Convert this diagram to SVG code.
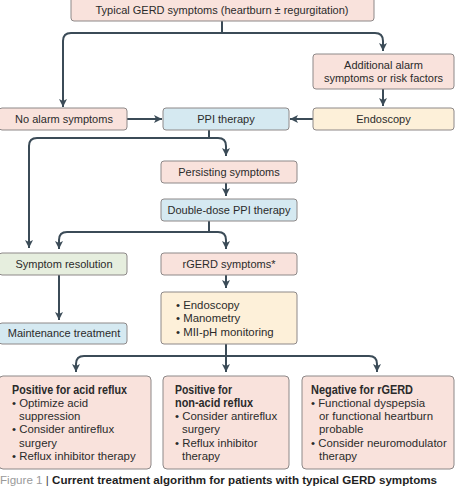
<svg xmlns="http://www.w3.org/2000/svg" width="474" height="487" viewBox="0 0 474 487">
<style>
.box{stroke:#8d8888;stroke-width:1}
.pink{fill:#f9e2dc}
.blue{fill:#d5e9f1}
.yel{fill:#fdf0d9}
.green{fill:#e6eede}
.t{font-family:"Liberation Sans",Arial,sans-serif;font-size:11px;fill:#2b2b2b}
.c{text-anchor:middle}
.b{font-size:11.4px;fill:#2b2b2b;font-family:"Liberation Sans",Arial,sans-serif}
.bold{font-weight:bold;font-size:12px}
.con{fill:none;stroke:#3b4b57;stroke-width:2}
.cap{font-family:"Liberation Sans",Arial,sans-serif;font-size:11.5px}
</style>
<defs>
<marker id="ah" markerUnits="userSpaceOnUse" markerWidth="10" markerHeight="10" viewBox="0 0 10 10" refX="9" refY="5" orient="auto">
<path d="M1,1 L9,5 L1,9 L3,5 Z" fill="#3b4b57"/>
</marker>
</defs>
<rect width="474" height="487" fill="#ffffff"/>
<g id="connectors">
<path class="con" d="M222,21 V33 H71 Q63,33 63,41 V107" marker-end="url(#ah)"/>
<path class="con" d="M222,33 H375 Q383,33 383,41 V51" marker-end="url(#ah)"/>
<path class="con" d="M383,89 V106" marker-end="url(#ah)"/>
<path class="con" d="M127,119 H162" marker-end="url(#ah)"/>
<path class="con" d="M313,119 H290" marker-end="url(#ah)"/>
<path class="con" d="M209,130 V138 H37 Q29,138 29,146 V248" marker-end="url(#ah)"/>
<path class="con" d="M209,138 H218 Q226,138 226,146 V156" marker-end="url(#ah)"/>
<path class="con" d="M226,183 V196" marker-end="url(#ah)"/>
<path class="con" d="M209,221 V232 H67 Q59,232 59,240 V249" marker-end="url(#ah)"/>
<path class="con" d="M209,232 H218 Q226,232 226,240 V249" marker-end="url(#ah)"/>
<path class="con" d="M59,275 V320" marker-end="url(#ah)"/>
<path class="con" d="M226,275 V288" marker-end="url(#ah)"/>
<path class="con" d="M226,344 V372" marker-end="url(#ah)"/>
<path class="con" d="M226,356 H84 Q76,356 76,364 V372" marker-end="url(#ah)"/>
<path class="con" d="M226,356 H369 Q377,356 377,364 V372" marker-end="url(#ah)"/>
</g>
<g id="typical">
<rect class="box pink" x="71" y="-3" width="303" height="24" rx="3"/>
<text class="t c" x="222" y="14">Typical GERD symptoms (heartburn ± regurgitation)</text>
</g>
<g id="alarm">
<rect class="box pink" x="313" y="54" width="141" height="35" rx="3"/>
<text class="t c" x="383.5" y="69">Additional alarm</text>
<text class="t c" x="383.5" y="82">symptoms or risk factors</text>
</g>
<g id="noalarm">
<rect class="box pink" x="-1" y="108" width="128" height="22" rx="3"/>
<text class="t c" x="64" y="123">No alarm symptoms</text>
</g>
<g id="ppi">
<rect class="box blue" x="163" y="108" width="126" height="22" rx="3"/>
<text class="t c" x="226" y="123">PPI therapy</text>
</g>
<g id="endoscopy">
<rect class="box yel" x="313" y="108" width="141" height="22" rx="3"/>
<text class="t c" x="383.5" y="123">Endoscopy</text>
</g>
<g id="persisting">
<rect class="box pink" x="161" y="161" width="136" height="22" rx="3"/>
<text class="t c" x="229" y="176">Persisting symptoms</text>
</g>
<g id="doubledose">
<rect class="box blue" x="161" y="199" width="136" height="22" rx="3"/>
<text class="t c" x="229" y="214">Double-dose  PPI therapy</text>
</g>
<g id="resolution">
<rect class="box green" x="-1" y="253" width="128" height="22" rx="3"/>
<text class="t c" x="64" y="268">Symptom resolution</text>
</g>
<g id="rgerd">
<rect class="box pink" x="161" y="253" width="136" height="22" rx="3"/>
<text class="t c" x="229" y="268">rGERD symptoms*</text>
</g>
<g id="maintenance">
<rect class="box blue" x="-1" y="323" width="128" height="21" rx="3"/>
<text class="t c" x="64" y="337">Maintenance treatment</text>
</g>
<g id="tests">
<rect class="box yel" x="161" y="292" width="136" height="52" rx="3"/>
<text class="b" x="176" y="309">• Endoscopy</text>
<text class="b" x="176" y="322">• Manometry</text>
<text class="b" x="176" y="336">• MII-pH monitoring</text>
</g>
<g id="acid">
<rect class="box pink" x="-1" y="376" width="152" height="93" rx="4"/>
<text class="b bold" x="12" y="394" textLength="115" lengthAdjust="spacingAndGlyphs">Positive for acid reflux</text>
<text class="b" x="12" y="407">• Optimize acid</text>
<text class="b" x="19" y="420">suppression</text>
<text class="b" x="12" y="433">• Consider antireflux</text>
<text class="b" x="19" y="447">surgery</text>
<text class="b" x="12" y="460">• Reflux inhibitor therapy</text>
</g>
<g id="nonacid">
<rect class="box pink" x="163" y="376" width="126" height="93" rx="4"/>
<text class="b bold" x="175" y="394" textLength="57" lengthAdjust="spacingAndGlyphs">Positive for</text>
<text class="b bold" x="175" y="407" textLength="78" lengthAdjust="spacingAndGlyphs">non-acid reflux</text>
<text class="b" x="175" y="420">• Consider antireflux</text>
<text class="b" x="182" y="433">surgery</text>
<text class="b" x="175" y="447">• Reflux inhibitor</text>
<text class="b" x="182" y="460">therapy</text>
</g>
<g id="negative">
<rect class="box pink" x="302" y="376" width="152" height="93" rx="4"/>
<text class="b bold" x="311" y="394" textLength="102" lengthAdjust="spacingAndGlyphs">Negative for rGERD</text>
<text class="b" x="311" y="407">• Functional dyspepsia</text>
<text class="b" x="319" y="420">or functional heartburn</text>
<text class="b" x="319" y="433">probable</text>
<text class="b" x="311" y="447">• Consider neuromodulator</text>
<text class="b" x="319" y="460">therapy</text>
</g>
<text class="cap" x="0" y="484" textLength="437" lengthAdjust="spacingAndGlyphs"><tspan fill="#9a9a9a">Figure 1 </tspan><tspan fill="#444444">| </tspan><tspan font-weight="bold" fill="#1f1f1f">Current treatment algorithm for patients with typical GERD symptoms</tspan></text>
</svg>
